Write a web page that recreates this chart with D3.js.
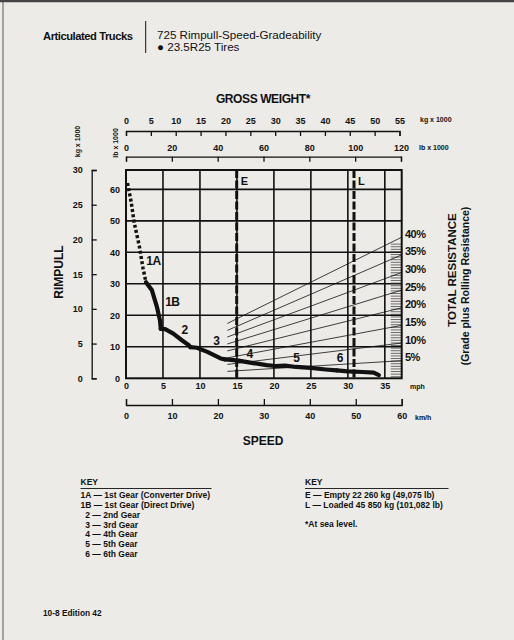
<!DOCTYPE html>
<html><head><meta charset="utf-8">
<script src="https://cdn.jsdelivr.net/npm/d3@7"></script>
<style>
html,body{margin:0;padding:0;background:#ecebe7;}
svg{display:block;font-family:"Liberation Sans",Arial,sans-serif;}
</style></head>
<body><svg id="c" width="514" height="640"></svg>
<script>
// ---------- DATA ----------
const kgTicks = [0,5,10,15,20,25,30,35,40,45,50,55];          // gross weight kg x 1000
const lbTicks = [0,20,40,60,80,100,120];                       // gross weight lb x 1000
const rimKgTicks = [0,5,10,15,20,25,30];                       // rimpull kg x 1000
const rimLbTicks = [0,10,20,30,40,50,60];                      // rimpull lb x 1000
const mphTicks = [0,5,10,15,20,25,30,35];
const kmhTicks = [0,10,20,30,40,50,60];
const gearNames = ["1A","1B","2","3","4","5","6"];
// rimpull curve points per gear: [mph, lb x 1000]
const gear1A = [[0.2,62],[0.7,56],[1.1,49.5],[1.8,42],[2.3,35],[2.7,30.5]];
const gear1B = [[2.7,30.5],[3.5,28],[4.2,22.5],[4.6,18.3],[4.7,15.7]];
const gear2  = [[4.7,15.7],[5.3,15.6],[6.4,14.2],[7.6,12.0],[8.5,10.5],[8.7,9.9]];
const gear3  = [[8.7,9.9],[9.6,9.7],[11,8.4],[12.8,6.3],[13.4,6.0]];
const gear4  = [[13.4,6.0],[15,5.7],[17,4.9],[19,4.2],[20.2,3.9]];
const gear5  = [[20.2,3.9],[21.5,4.0],[23,3.6],[25,3.3],[27,2.8],[28.5,2.5]];
const gear6  = [[28.5,2.5],[30,2.2],[32,2.0],[33.5,1.8],[34.2,1.0]];
// gear label anchor points (text baseline start) [mph, lb x 1000]
const gearLabelPos = [[2.75,36.0],[5.3,23.0],[7.5,14.2],[11.8,10.7],[16.3,6.5],[22.6,5.3],[28.5,5.2]];
// total resistance lines (lb x 1000 at left start and at right edge of chart)
const resistPct = ["5%","10%","15%","20%","25%","30%","35%","40%"];
const resistStartMph = 13.7;
const resistStart = [2.2,4.4,6.5,8.7,10.9,13.1,15.2,17.4];
const resistEnd   = [5.6,11.2,16.8,22.4,28.0,33.6,39.2,44.8];
// target weights (kg x 1000)
const targetNames = ["E","L"];
const targetKg = [22.26,45.85];
const keyLeft = ["1A — 1st Gear (Converter Drive)","1B — 1st Gear (Direct Drive)","  2 — 2nd Gear","  3 — 3rd Gear","  4 — 4th Gear","  5 — 5th Gear","  6 — 6th Gear"];
const keyRight = ["E — Empty 22 260 kg (49,075 lb)","L — Loaded 45 850 kg (101,082 lb)"];

// ---------- LAYOUT ----------
const svg = d3.select("#c");
const X0 = 126, X1 = 401.7, Y0 = 378.3, Y1 = 170;
const xKmh = d3.scaleLinear().domain([0,60]).range([X0,X1]);
const xMph = d3.scaleLinear().domain([0,60/1.609344]).range([X0,X1]);
const yKg  = d3.scaleLinear().domain([0,30]).range([Y0,Y1]);
const yLb  = d3.scaleLinear().domain([0,30*2.20462]).range([Y0,Y1]);
const xWkg = d3.scaleLinear().domain([0,55]).range([X0,399.5]);
const xWlb = d3.scaleLinear().domain([0,120]).range([X0,401]);
const ink = "#111";

// page
svg.append("rect").attr("width",514).attr("height",640).attr("fill","#ecebe7");
svg.append("line").attr("x1",3).attr("x2",3).attr("y1",0).attr("y2",640).attr("stroke","#8a8a88").attr("stroke-width",1.5);
svg.append("line").attr("x1",0).attr("x2",514).attr("y1",1).attr("y2",1).attr("stroke","#444").attr("stroke-width",2.5);

// header
svg.append("text").attr("x",43).attr("y",40).attr("font-size",11.2).attr("font-weight","bold").attr("letter-spacing",-0.45).attr("fill",ink).text("Articulated Trucks");
svg.append("line").attr("x1",145.7).attr("x2",145.7).attr("y1",21).attr("y2",53).attr("stroke",ink).attr("stroke-width",1);
svg.append("text").attr("x",157).attr("y",38.5).attr("font-size",11.6).attr("fill",ink).text("725 Rimpull-Speed-Gradeability");
svg.append("text").attr("x",157).attr("y",51).attr("font-size",11.6).attr("fill",ink).text("● 23.5R25 Tires");

// titles
svg.append("text").attr("x",263).attr("y",103).attr("text-anchor","middle").attr("font-size",12).attr("font-weight","bold").attr("letter-spacing",-0.4).attr("fill",ink).text("GROSS WEIGHT*");
svg.append("text").attr("x",263).attr("y",444.5).attr("text-anchor","middle").attr("font-size",12).attr("font-weight","bold").attr("fill",ink).text("SPEED");

function styleAxis(g, fs){
  g.selectAll("text").attr("font-size",fs).attr("font-weight","bold").attr("fill",ink).attr("font-family","Liberation Sans, Arial, sans-serif");
  g.selectAll("line,path").attr("stroke",ink).attr("stroke-width",1.3);
}
// top weight axes
const gkg = svg.append("g").attr("transform","translate(0,131)")
  .call(d3.axisTop(xWkg).tickValues(kgTicks).tickSizeInner(-5).tickSizeOuter(-5).tickPadding(7));
styleAxis(gkg,9);
const glb = svg.append("g").attr("transform","translate(0,156.7)")
  .call(d3.axisTop(xWlb).tickValues(lbTicks).tickSizeInner(-5).tickSizeOuter(-5).tickPadding(6));
styleAxis(glb,9);
svg.append("text").attr("x",420).attr("y",121.5).attr("font-size",7).attr("font-weight","bold").attr("fill",ink).text("kg x 1000");
svg.append("text").attr("x",419).attr("y",149.5).attr("font-size",7).attr("font-weight","bold").attr("fill",ink).text("lb x 1000");

// left axes
const gyk = svg.append("g").attr("transform","translate(91.7,0)")
  .call(d3.axisLeft(yKg).tickValues(rimKgTicks).tickSizeInner(-5).tickSizeOuter(-5).tickPadding(9));
styleAxis(gyk,9);
const gyl = svg.append("g").attr("transform",`translate(${X0},0)`)
  .call(d3.axisLeft(yLb).tickValues(rimLbTicks).tickSize(0).tickPadding(6));
styleAxis(gyl,9); gyl.select(".domain").remove();
svg.append("text").attr("transform","translate(80,141.5) rotate(-90)").attr("text-anchor","middle").attr("font-size",7).attr("font-weight","bold").attr("fill",ink).text("kg x 1000");
svg.append("text").attr("transform","translate(117.5,143) rotate(-90)").attr("text-anchor","middle").attr("font-size",7).attr("font-weight","bold").attr("fill",ink).text("lb x 1000");
svg.append("text").attr("transform","translate(62.5,272) rotate(-90)").attr("text-anchor","middle").attr("font-size",12).attr("font-weight","bold").attr("fill",ink).text("RIMPULL");

// bottom axes
const gm = svg.append("g").attr("transform",`translate(0,${Y0})`)
  .call(d3.axisBottom(xMph).tickValues(mphTicks).tickSize(0).tickPadding(4));
styleAxis(gm,9); gm.select(".domain").remove();
svg.append("text").attr("x",410).attr("y",388.5).attr("font-size",7).attr("font-weight","bold").attr("fill",ink).text("mph");
const gk = svg.append("g").attr("transform","translate(0,405)")
  .call(d3.axisBottom(xKmh).tickValues(kmhTicks).tickSizeInner(-6).tickSizeOuter(-6).tickPadding(8));
styleAxis(gk,9);
svg.append("text").attr("x",415).attr("y",419.5).attr("font-size",7).attr("font-weight","bold").attr("fill",ink).text("km/h");

// grid
const plot = svg.append("g");
plot.selectAll("line.v").data(mphTicks.filter(d=>d>0)).join("line")
  .attr("x1",d=>xMph(d)).attr("x2",d=>xMph(d)).attr("y1",Y1).attr("y2",Y0).attr("stroke",ink).attr("stroke-width",1.6);
plot.selectAll("line.h").data(rimLbTicks.filter(d=>d>0)).join("line")
  .attr("x1",X0).attr("x2",X1).attr("y1",d=>yLb(d)).attr("y2",d=>yLb(d)).attr("stroke",ink).attr("stroke-width",1.6);

// hatching at the right edge, under the 40% line
const topLine = d3.scaleLinear().domain([resistStartMph, 60/1.609344]).range([resistStart[7], resistEnd[7]]);
const hx0 = xMph(35.8);
const hatchTop = yLb(topLine(35.8));
const hatchYs = d3.range(hatchTop+1.5, Y0-1, 2.6);
plot.selectAll("line.hatch").data(hatchYs).join("line")
  .attr("x1",hx0).attr("x2",X1).attr("y1",d=>d).attr("y2",d=>d).attr("stroke","#333").attr("stroke-width",0.7);

// resistance lines
plot.selectAll("line.res").data(resistPct).join("line")
  .attr("x1",xMph(resistStartMph)).attr("x2",X1)
  .attr("y1",(d,i)=>yLb(resistStart[i])).attr("y2",(d,i)=>yLb(resistEnd[i]))
  .attr("stroke",ink).attr("stroke-width",0.8);
svg.selectAll("text.res").data(resistPct).join("text")
  .attr("x",405).attr("y",(d,i)=>yLb(resistEnd[i])+0.5).attr("font-size",11).attr("font-weight","bold").attr("letter-spacing",-0.5).attr("fill",ink).text(d=>d);
svg.append("text").attr("transform","translate(456,270) rotate(-90)").attr("text-anchor","middle").attr("font-size",11.5).attr("font-weight","bold").attr("fill",ink).text("TOTAL RESISTANCE");
svg.append("text").attr("transform","translate(468.5,286) rotate(-90)").attr("text-anchor","middle").attr("font-size",10.5).attr("font-weight","bold").attr("fill",ink).text("(Grade plus Rolling Resistance)");

// plot border
svg.append("rect").attr("x",X0).attr("y",Y1).attr("width",X1-X0).attr("height",Y0-Y1).attr("fill","none").attr("stroke",ink).attr("stroke-width",2);

// E / L lines
targetKg.forEach((kg,i)=>{
  const x = xWkg(kg);
  svg.append("line").attr("x1",x).attr("x2",x).attr("y1",Y1).attr("y2",Y0).attr("stroke",ink).attr("stroke-width",3).attr("stroke-dasharray","8,2.5");
  svg.append("text").attr("x",x+4).attr("y",185).attr("font-size",11).attr("font-weight","bold").attr("fill",ink).text(targetNames[i]);
});

// rimpull curves
const line = d3.line().x(d=>xMph(d[0])).y(d=>yLb(d[1]));
svg.append("path").attr("d",line(gear1A)).attr("fill","none").attr("stroke",ink).attr("stroke-width",3.5).attr("stroke-dasharray","3,2.3");
const solid = [gear1B,gear2,gear3,gear4,gear5,gear6];
svg.selectAll("path.gear").data(solid).join("path")
  .attr("d",d=>line(d)).attr("fill","none").attr("stroke",ink).attr("stroke-width",4.2).attr("stroke-linejoin","round").attr("stroke-linecap","round");
svg.selectAll("text.gl").data(gearNames).join("text")
  .attr("x",(d,i)=>xMph(gearLabelPos[i][0])).attr("y",(d,i)=>yLb(gearLabelPos[i][1]))
  .attr("font-size",12).attr("font-weight","bold").attr("letter-spacing",-0.5).attr("fill",ink).text(d=>d);

// key
function keyBlock(x, items, uw){
  svg.append("text").attr("x",x).attr("y",484.5).attr("font-size",8.5).attr("font-weight","bold").attr("fill",ink).text("KEY");
  svg.append("line").attr("x1",x).attr("x2",x+uw).attr("y1",488.5).attr("y2",488.5).attr("stroke",ink).attr("stroke-width",0.9);
  svg.selectAll(null).data(items).join("text")
    .attr("x",x).attr("y",(d,i)=>498+i*9.85).attr("font-size",8.5).attr("font-weight","bold").attr("fill",ink)
    .attr("xml:space","preserve").style("white-space","pre").text(d=>d);
}
keyBlock(80.5, keyLeft, 131);
keyBlock(305, keyRight, 143.5);
svg.append("text").attr("x",305).attr("y",527).attr("font-size",8.5).attr("font-weight","bold").attr("fill",ink).text("*At sea level.");
svg.append("text").attr("x",43).attr("y",616).attr("font-size",8.3).attr("font-weight","bold").attr("fill",ink).text("10-8   Edition 42");
</script></body></html>
